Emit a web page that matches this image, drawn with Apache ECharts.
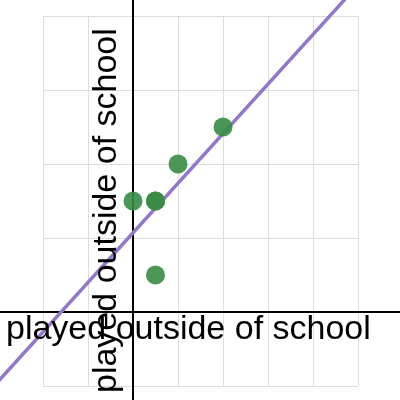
<!DOCTYPE html>
<html>
<head>
<meta charset="utf-8">
<script src="https://cdn.jsdelivr.net/npm/echarts@6/dist/echarts.min.js"></script>
<style>
  html, body { margin: 0; padding: 0; background: #fff; }
  #chart { width: 400px; height: 400px; }
</style>
</head>
<body>
<div id="chart"></div>
<script>
// points
var xs = [0, 0.5, 0.5, 0.5, 1, 2];
var ys = [1.5, 1.5, 1.5, 0.5, 2, 2.5];
// fitted line y = a + b x
var fitA = 1.07;
var fitB = 0.67;
var lineXs = [-3, 6];

var pts = xs.map(function (x, i) { return [x, ys[i]]; });
var linePts = lineXs.map(function (x) { return [x, fitA + fitB * x]; });

var hidden = { axisTick: { show: false }, axisLabel: { show: false } };

var chart = echarts.init(document.getElementById('chart'));
chart.setOption({
  animation: false,
  grid: [
    { left: 43, top: 16, width: 315, height: 370 },   // grid lines
    { left: 0, top: 0, width: 400, height: 400 }      // marks + axes
  ],
  xAxis: [
    Object.assign({ type: 'value', gridIndex: 0, min: -2, max: 5, interval: 1,
      axisLine: { show: false },
      splitLine: { lineStyle: { color: '#ddd', width: 1 } } }, hidden),
    Object.assign({ type: 'value', gridIndex: 1, min: -133 / 45, max: 267 / 45,
      axisLine: { onZero: true, lineStyle: { color: '#000', width: 2 } },
      splitLine: { show: false } }, hidden)
  ],
  yAxis: [
    Object.assign({ type: 'value', gridIndex: 0, min: -1, max: 4, interval: 1,
      axisLine: { show: false },
      splitLine: { lineStyle: { color: '#ddd', width: 1 } } }, hidden),
    Object.assign({ type: 'value', gridIndex: 1, min: -88 / 74, max: 312 / 74,
      axisLine: { onZero: true, lineStyle: { color: '#000', width: 2 } },
      splitLine: { show: false } }, hidden)
  ],
  graphic: [
    { type: 'text', left: 6, top: 313, z: 10,
      style: { text: 'played outside of school', font: '34px "Liberation Sans", Arial', fill: '#000' } },
    { type: 'text', x: 90, y: 393, rotation: Math.PI / 2, originX: 0, originY: 0, z: 10,
      style: { text: 'played outside of school', font: '34px "Liberation Sans", Arial', fill: '#000' } }
  ],
  series: [
    { type: 'line', xAxisIndex: 1, yAxisIndex: 1, data: linePts, symbol: 'none',
      lineStyle: { color: '#9278c8', width: 3.5 }, z: 3 },
    { type: 'scatter', xAxisIndex: 1, yAxisIndex: 1, data: pts, symbolSize: 19,
      itemStyle: { color: '#388c46', opacity: 0.9 }, z: 4 }
  ]
});
</script>
</body>
</html>
